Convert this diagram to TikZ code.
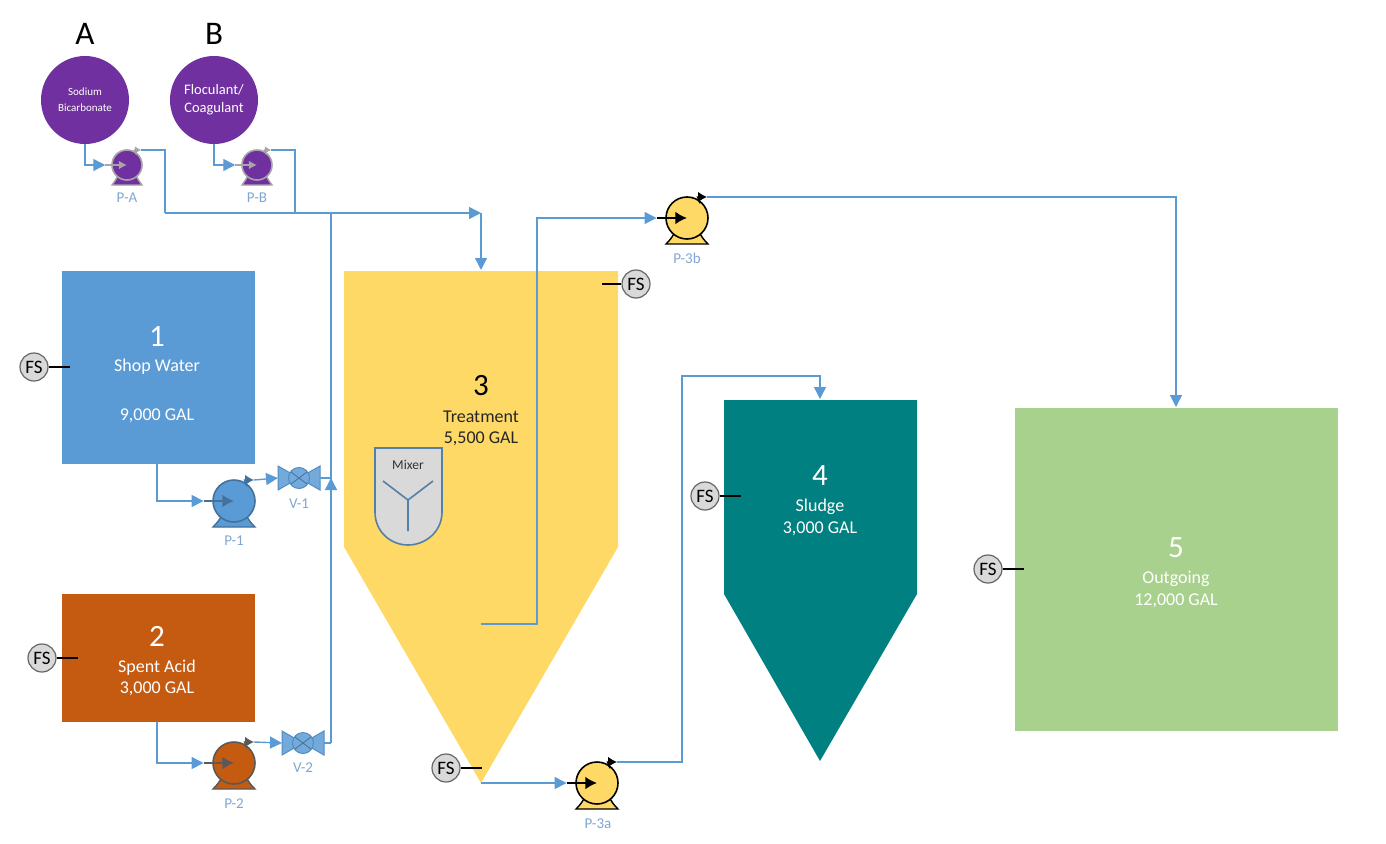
\documentclass[tikz,border=0pt]{standalone}
\usepackage{fontspec}
\setmainfont{Carlito}
\usetikzlibrary{arrows.meta}
\definecolor{pipeblue}{HTML}{5B9BD5}
\definecolor{tagblue}{HTML}{7FA6D2}
\definecolor{waterblue}{HTML}{5B9BD5}
\definecolor{steelblue}{HTML}{41719C}
\definecolor{acid}{HTML}{C55A11}
\definecolor{treat}{HTML}{FFD966}
\definecolor{sludge}{HTML}{008080}
\definecolor{outgo}{HTML}{A9D18E}
\definecolor{chem}{HTML}{7030A0}
\definecolor{greyfill}{HTML}{D9D9D9}
\tikzset{
  pipe/.style={draw=pipeblue,line width=1.4pt},
  flow/.style={pipe,-{Triangle[length=12pt,width=12pt]}},
  numtext/.style={font=\fontsize{31}{33}\selectfont},
  lettertext/.style={font=\fontsize{33}{35}\selectfont},
  bodytext/.style={font=\fontsize{18}{20}\selectfont,yshift=-1pt},
  tagtext/.style={font=\fontsize{15}{16}\selectfont,text=tagblue},
  fsnode/.style={circle,draw=black!60,fill=greyfill,line width=1.2pt,minimum size=28pt,inner sep=0pt,font=\fontsize{19}{20}\selectfont},
  fsline/.style={draw=black,line width=1.2pt},
  drum/.style={circle,fill=chem,minimum size=88pt,inner sep=0pt,text=white,align=center},
  tankbox/.style={rectangle,inner sep=0pt}
}
% pump: name, x, y, radius, fill, stroke
\newcommand{\pumpunit}[6]{
  \begin{scope}[shift={(#2,#3)}]
    \draw[fill=#5,draw=#6,line width=1.4pt] (-#4,#4+5) .. controls (-#4*0.8,#4+1) and (-#4*0.7,#4*0.9) .. (-#4*0.6,#4*0.7) -- (#4*0.6,#4*0.7) .. controls (#4*0.7,#4*0.9) and (#4*0.8,#4+1) .. (#4,#4+5) -- cycle;
    \node[circle,fill=#5,draw=#6,line width=1.6pt,minimum size=2*#4*1pt,inner sep=0pt] (#1) at (0,0) {};
    \coordinate (#1in) at (-#4*1.45,0);
    \coordinate (#1out) at (#4*0.95,-#4);
    \draw[draw=#6,line width=1.8pt,-{Latex[length=#4*0.55pt,width=#4*0.6pt]}] (#1in) -- (#1.center);
    \draw[draw=#6,line width=1.4pt,-{Latex[length=#4*0.42pt,width=#4*0.5pt]}] (#4*0.62,-#4*0.7) -- (#4*0.5,-#4) -- (#1out);
  \end{scope}
}
% valve: name, x, y
\newcommand{\valveunit}[3]{
  \begin{scope}[shift={(#2,#3)}]
    \draw[fill=waterblue!85!white,draw=waterblue!90!black,line width=1pt] (-21,-12) -- (21,12) -- (21,-12) -- (-21,12) -- cycle;
    \node[circle,fill=waterblue!85!white,draw=waterblue!90!black,line width=1pt,minimum size=21pt,inner sep=0pt] (#1) at (0,0) {};
    \draw[draw=steelblue,line width=.8pt] (-8,-6) -- (8,6) (-8,6) -- (8,-6);
    \coordinate (#1in) at (-21,0);
    \coordinate (#1out) at (21,0);
  \end{scope}
}
\begin{document}
\begin{tikzpicture}[x=1pt,y=-1pt]
  \useasboundingbox (0,0) rectangle (1386,843);

  % tanks
  \node[tankbox,fill=waterblue,minimum width=193pt,minimum height=193pt] (T1) at (158.5,367.5) {};
  \node[tankbox,fill=acid,minimum width=193pt,minimum height=128pt] (T2) at (158.5,658) {};
  \fill[treat] (344,271) -- (618,271) -- (618,547) -- (481,783) -- (344,547) -- cycle;
  \fill[sludge] (724,400) -- (917,400) -- (917,594) -- (820,761) -- (724,594) -- cycle;
  \node[tankbox,fill=outgo,minimum width=323pt,minimum height=323pt] (T5) at (1176.5,569.5) {};

  \coordinate (T3top) at (481,270);
  \coordinate (T3tip) at (481,783);
  \coordinate (T3draw) at (481,624);
  \coordinate (T4top) at (820,399);
  \coordinate (T5top) at (1176,407);

  % tank texts
  \node[numtext,text=white] (N1) at (157,337) {1};
  \node[bodytext,text=white] (L1a) at (157,366) {Shop Water};
  \node[bodytext,text=white] (L1b) at (157,415) {9,000 GAL};
  \node[numtext,text=white] (N2) at (157,636) {2};
  \node[bodytext,text=white] (L2a) at (157,667) {Spent Acid};
  \node[bodytext,text=white] (L2b) at (157,688) {3,000 GAL};
  \node[numtext,text=black] (N3) at (481,386) {3};
  \node[bodytext,text=black!85] (L3a) at (481,416) {Treatment};
  \node[bodytext,text=black!85] (L3b) at (481,438) {5,500 GAL};
  \node[numtext,text=white] (N4) at (820,476) {4};
  \node[bodytext,text=white] (L4a) at (820,506) {Sludge};
  \node[bodytext,text=white] (L4b) at (820,528) {3,000 GAL};
  \node[numtext,text=white] (N5) at (1176,548) {5};
  \node[bodytext,text=white] (L5a) at (1176,578) {Outgoing};
  \node[bodytext,text=white] (L5b) at (1176,600) {12,000 GAL};

  % chemical drums
  \node[lettertext,text=black] (TA) at (85,34) {A};
  \node[lettertext,text=black] (TB) at (214,34) {B};
  \node[drum,font=\fontsize{11}{16}\selectfont] (DA) at (85,100) {Sodium\\Bicarbonate};
  \node[drum,font=\fontsize{14.5}{18}\selectfont] (DB) at (214,100) {Floculant/\\Coagulant};

  % mixer
  \draw[fill=greyfill,draw=steelblue!90!white,line width=1.6pt] (375,448) -- (442,448) -- (442,512) .. controls (442,532) and (425,545) .. (408,545) .. controls (391,545) and (375,532) .. (375,512) -- cycle;
  \draw[draw=steelblue!90!white,line width=1.6pt] (383,481) -- (408,500) -- (433,481) (408,500) -- (408,531);
  \node[font=\fontsize{13.5}{15}\selectfont,text=black!80] (MX) at (408,465) {Mixer};

  % pumps and valves
  \pumpunit{PA}{127}{165}{15}{chem}{black!35}
  \pumpunit{PB}{257}{165}{15}{chem}{black!35}
  \pumpunit{P1}{234}{501}{21}{waterblue}{steelblue}
  \pumpunit{P2}{234}{763}{21}{acid}{black!65}
  \pumpunit{P3a}{597}{783}{21}{treat}{black}
  \pumpunit{P3b}{687}{218}{21}{treat}{black}
  \valveunit{V1}{299}{478}
  \valveunit{V2}{303}{743}

  \node[tagtext] (tPA) at (127,198) {P-A};
  \node[tagtext] (tPB) at (257,198) {P-B};
  \node[tagtext] (tP1) at (234,541) {P-1};
  \node[tagtext] (tP2) at (234,804) {P-2};
  \node[tagtext] (tP3a) at (598,824) {P-3a};
  \node[tagtext] (tP3b) at (687,258) {P-3b};
  \node[tagtext] (tV1) at (299,504) {V-1};
  \node[tagtext] (tV2) at (303,768) {V-2};

  % bends
  \coordinate (busA) at (165,213);
  \coordinate (busB) at (295,213);
  \coordinate (busC) at (331,213);
  \coordinate (dose) at (481,213);
  \coordinate (riserA) at (331,478);
  \coordinate (riserB) at (331,492);
  \coordinate (riserC) at (331,743);
  \coordinate (upA) at (537,624);
  \coordinate (upB) at (682,376);

  % pipes
  \draw[flow] (DA.south) |- (PAin);
  \draw[flow] (DB.south) |- (PBin);
  \draw[pipe] (PAout) -| (busA);
  \draw[pipe] (PBout) -| (busB);
  \draw[flow] (busA) -- (dose);
  \draw[flow] (dose) -- (T3top);
  \draw[pipe] (busC) -- (riserC);
  \draw[flow] ([xshift=-1.5pt]T1.south) |- (P1in);
  \draw[flow] ([xshift=-1.5pt]T2.south) |- (P2in);
  \draw[flow] (P1out) -- (V1in);
  \draw[flow] (P2out) -- (V2in);
  \draw[pipe] (V1out) -- (riserA);
  \draw[flow] (riserB) -- (riserA);
  \draw[pipe] (V2out) -- (riserC);
  \draw[flow] (T3tip) -- (P3ain);
  \draw[flow] (T3draw) -| (P3bin -| upA) -- (P3bin);
  \draw[flow] (P3aout) -| (upB) -| (T4top);
  \draw[flow] (P3bout) -| (T5top);

  % level sensors
  \node[fsnode] (FS1) at (34,367) {FS};
  \node[fsnode] (FS2) at (42,658) {FS};
  \node[fsnode] (FS3) at (636,284) {FS};
  \node[fsnode] (FS3b) at (446,768) {FS};
  \node[fsnode] (FS4) at (705,496) {FS};
  \node[fsnode] (FS5) at (988,569) {FS};
  \coordinate (e1) at (70,367);
  \coordinate (e2) at (78,658);
  \coordinate (e3) at (602,284);
  \coordinate (e3b) at (482,768);
  \coordinate (e4) at (741,496);
  \coordinate (e5) at (1024,569);
  \draw[fsline] (FS1) -- (e1);
  \draw[fsline] (FS2) -- (e2);
  \draw[fsline] (FS3) -- (e3);
  \draw[fsline] (FS3b) -- (e3b);
  \draw[fsline] (FS4) -- (e4);
  \draw[fsline] (FS5) -- (e5);
\end{tikzpicture}
\end{document}
